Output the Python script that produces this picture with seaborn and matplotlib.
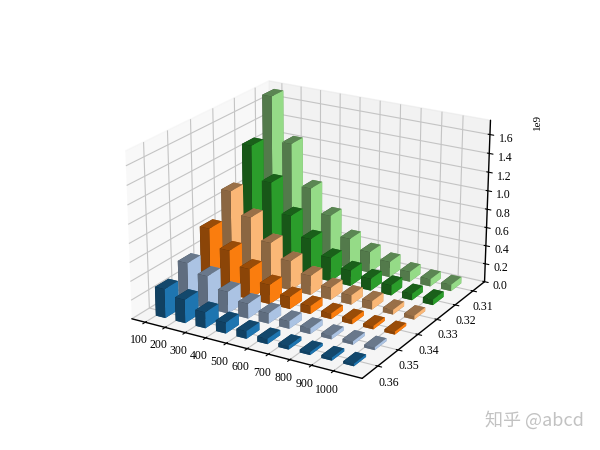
import matplotlib
matplotlib.use("Agg")
import matplotlib.pyplot as plt
from matplotlib.colors import LightSource
import numpy as np
import seaborn as sns

sns.set_style("white")
plt.rcParams['font.family'] = ['Liberation Serif', 'DejaVu Serif']
plt.rcParams['font.size'] = 8
plt.rcParams['text.color'] = 'black'
plt.rcParams['xtick.color'] = 'black'
plt.rcParams['ytick.color'] = 'black'
plt.rcParams['axes.labelcolor'] = 'black'

x_values = [100, 200, 300, 400, 500, 600, 700, 800, 900, 1000]
y_labels = ['0.36', '0.35', '0.34', '0.33', '0.32', '0.31']
h_036 = [0.31, 0.25, 0.17, 0.115, 0.08, 0.055, 0.04, 0.03, 0.03, 0.025]
h_035 = [0.44, 0.35, 0.235, 0.16, 0.11, 0.08, 0.06, 0.04, 0.035, 0.03]
h_034 = [0.67, 0.48, 0.33, 0.21, 0.13, 0.085, 0.06, 0.05, 0.035, 0.03]
h_033 = [0.94, 0.70, 0.47, 0.32, 0.21, 0.13, 0.10, 0.09, 0.05, 0.04]
h_032 = [1.31, 0.95, 0.63, 0.42, 0.26, 0.17, 0.13, 0.11, 0.07, 0.06]
h_031 = [1.73, 1.25, 0.80, 0.54, 0.33, 0.23, 0.17, 0.11, 0.08, 0.07]
heights = [h_036, h_035, h_034, h_033, h_032, h_031]
scale = 1e9
palette = sns.color_palette("tab20", 6)
light = LightSource(azdeg=72.5, altdeg=-8)

fig = plt.figure(figsize=(6, 4.5), dpi=100)
ax = fig.add_axes([0.125, 0.118, 0.775, 0.77], projection="3d")
ax.view_init(elev=21.5, azim=-59.5)
ax.set_box_aspect((4, 4, 2.7), zoom=1.15)
for row, (hs, col) in enumerate(zip(heights, palette)):
    ax.bar3d(x_values, [row - 0.29] * len(x_values), [0] * len(x_values),
             48, 0.58, np.array(hs) * scale, color=col, shade=True,
             edgecolor='none', linewidth=0, lightsource=light)
ax.set_xticks(x_values)
ax.set_yticks(range(len(y_labels)), y_labels)
ax.set_xlim(32, 1128)
ax.set_ylim(-0.74, 5.68)
ax.set_zlim(0, 1.75e9)
ax.set_zticks(np.arange(0, 1.7e9, 0.2e9))
for axis in (ax.xaxis, ax.yaxis, ax.zaxis):
    axis.line.set_color('black')
    axis.line.set_linewidth(1.0)
    axis.offsetText.set_visible(False)
    axis._axinfo['tick']['color'] = 'black'
    axis._axinfo['grid']['color'] = '#c4c4c4'
ax.tick_params(labelsize=8.5, pad=-2)
fig.text(537 / 600, 1 - 122 / 450, "1e9", rotation=90, ha='center', va='center', fontsize=8)
fig.text(0.808, 0.055, "知乎 @abcd", color="#c2c2c2", fontsize=13,
         family=['Noto Sans CJK SC', 'DejaVu Sans'])
fig.savefig("out.png", dpi=100)
